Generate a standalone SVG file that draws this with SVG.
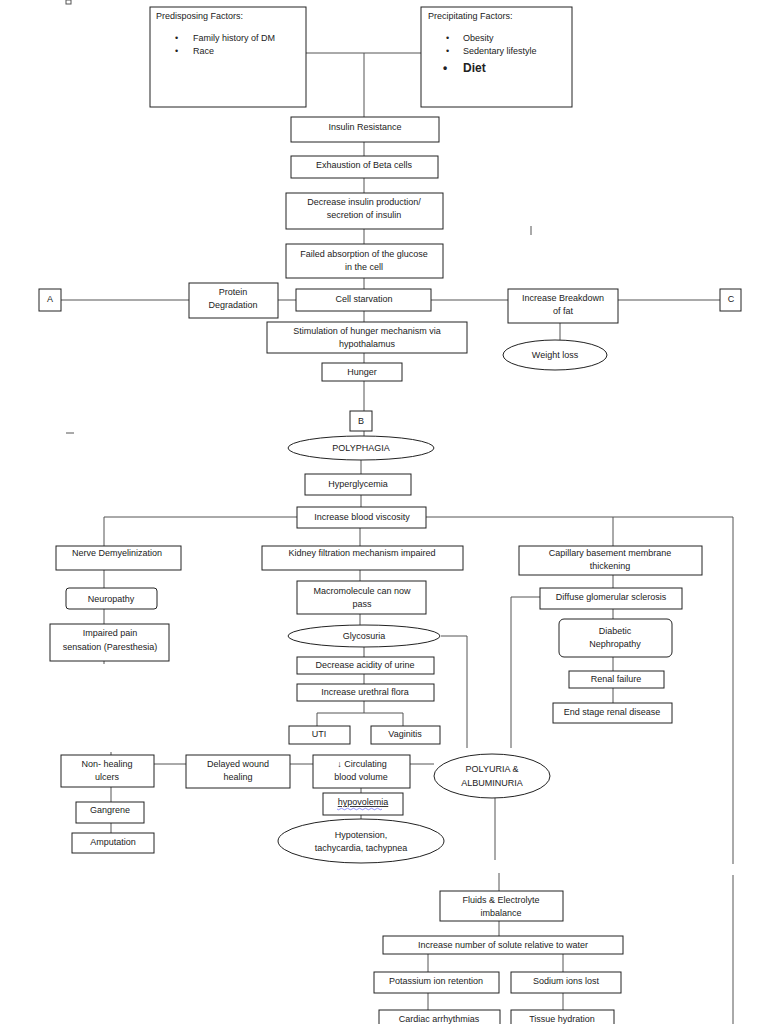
<svg xmlns="http://www.w3.org/2000/svg" width="768" height="1024" viewBox="0 0 768 1024">
<style>
.b{fill:#fff;stroke:#222;stroke-width:1}
.c{stroke:#555;stroke-width:1;fill:none}
text{font-family:"Liberation Sans Narrow","Liberation Sans",Arial,sans-serif;font-size:9px;fill:#222;text-anchor:middle}
.l{text-anchor:start}
</style>
<rect width="768" height="1024" fill="#fff"/>
<g id="connectors">
<path class="c" d="M306 53H421M364 53V117M364 142V156M364 178V193M364 229V244M364 278V289M364 311V322M364 353V363M364 381V411M364 431V436"/>
<path class="c" d="M61 300H189M278 300H296M431 300H508M618 300H720M560 323V340"/>
<path class="c" d="M361 460V474M361 495V507M104 517H297M426 517H733V864M733 875V1024M104 517V546M613 517V546M360 528V546"/>
<path class="c" d="M104 570V588M104 609V624M104 661V664M360 570V581M360 614V625M441 636H467V748M364 647V657M364 674V684M364 701V713M317 713H403M317 713V726M403 713V726"/>
<path class="c" d="M613 575V588M540 597H511V748M613 609V619M613 657V671M613 688V703"/>
<path class="c" d="M111 752V755M154 764H186M290 764H313M410 764H434M361 788V793M361 815V819M111 787V802M111 823V833"/>
<path class="c" d="M495 797V860M499 873V891M499 921V936M428 954V972M563 954V972M428 993V1010M563 993V1010"/>
<path class="c" d="M531 226V235M66 433H74"/>
<rect x="66" y="0" width="5" height="4" class="c"/>
</g>
<g id="predisposing"><rect class="b" x="150" y="7" width="156" height="100"/><text class="l" x="156" y="19">Predisposing Factors:</text><text class="l" x="175" y="41">•</text><text class="l" x="193" y="41">Family history of DM</text><text class="l" x="175" y="54">•</text><text class="l" x="193" y="54">Race</text></g>
<g id="precipitating"><rect class="b" x="421" y="7" width="151" height="100"/><text class="l" x="428" y="19">Precipitating Factors:</text><text class="l" x="446" y="41">•</text><text class="l" x="463" y="41">Obesity</text><text class="l" x="446" y="54">•</text><text class="l" x="463" y="54">Sedentary lifestyle</text><text class="l" x="443" y="72" style="font-size:12px;font-weight:bold;font-family:'Liberation Sans',sans-serif">•</text><text class="l" x="463" y="72" style="font-size:12px;font-weight:bold;font-family:'Liberation Sans',sans-serif">Diet</text></g>
<g id="insulin"><rect class="b" x="291" y="117" width="148" height="25"/><text x="365" y="130">Insulin Resistance</text></g>
<g id="exhaustion"><rect class="b" x="291" y="156" width="147" height="22"/><text x="364" y="168">Exhaustion of Beta cells</text></g>
<g id="decrease"><rect class="b" x="286" y="193" width="157" height="36"/><text x="364" y="205">Decrease insulin production/</text><text x="364" y="218">secretion of insulin</text></g>
<g id="failed"><rect class="b" x="286" y="244" width="157" height="34"/><text x="364" y="257">Failed absorption of the glucose</text><text x="364" y="270">in the cell</text></g>
<g id="starvation"><rect class="b" x="296" y="289" width="135" height="22"/><text x="364" y="302">Cell starvation</text></g>
<g id="A"><rect class="b" x="39" y="289" width="22" height="22"/><text x="50" y="302">A</text></g>
<g id="C"><rect class="b" x="720" y="289" width="21" height="22"/><text x="731" y="302">C</text></g>
<g id="protein"><rect class="b" x="189" y="283" width="89" height="35"/><text x="233" y="295">Protein</text><text x="233" y="308">Degradation</text></g>
<g id="fat"><rect class="b" x="508" y="289" width="110" height="34"/><text x="563" y="301">Increase Breakdown</text><text x="563" y="314">of fat</text></g>
<g id="weight"><ellipse class="b" cx="555" cy="355" rx="52" ry="15"/><text x="555" y="358">Weight loss</text></g>
<g id="stimulation"><rect class="b" x="267" y="322" width="200" height="31"/><text x="367" y="334">Stimulation of hunger mechanism via</text><text x="367" y="347">hypothalamus</text></g>
<g id="hunger"><rect class="b" x="322" y="363" width="80" height="18"/><text x="362" y="375">Hunger</text></g>
<g id="B"><rect class="b" x="350" y="411" width="22" height="20"/><text x="361" y="424">B</text></g>
<g id="polyphagia"><ellipse class="b" cx="361" cy="448" rx="73" ry="12"/><text x="361" y="451">POLYPHAGIA</text></g>
<g id="hyperglycemia"><rect class="b" x="305" y="474" width="106" height="21"/><text x="358" y="487">Hyperglycemia</text></g>
<g id="viscosity"><rect class="b" x="297" y="507" width="129" height="21"/><text x="362" y="520">Increase blood viscosity</text></g>
<g id="nerve"><rect class="b" x="56" y="546" width="125" height="24"/><text x="117" y="556">Nerve Demyelinization</text></g>
<g id="neuropathy"><rect class="b" x="66" y="588" width="91" height="21" rx="3"/><text x="111" y="602">Neuropathy</text></g>
<g id="pain"><rect class="b" x="50" y="624" width="119" height="37"/><text x="110" y="636">Impaired pain</text><text x="110" y="650">sensation (Paresthesia)</text></g>
<g id="kidney"><rect class="b" x="262" y="546" width="201" height="24"/><text x="362" y="556">Kidney filtration mechanism impaired</text></g>
<g id="macro"><rect class="b" x="297" y="581" width="129" height="33"/><text x="362" y="594">Macromolecule can now</text><text x="362" y="607">pass</text></g>
<g id="glycosuria"><ellipse class="b" cx="364" cy="636" rx="76" ry="11"/><text x="364" y="639">Glycosuria</text></g>
<g id="acidity"><rect class="b" x="297" y="657" width="137" height="17"/><text x="365" y="668">Decrease acidity of urine</text></g>
<g id="flora"><rect class="b" x="297" y="684" width="137" height="17"/><text x="365" y="695">Increase urethral flora</text></g>
<g id="uti"><rect class="b" x="289" y="726" width="61" height="18"/><text x="319" y="737">UTI</text></g>
<g id="vaginitis"><rect class="b" x="371" y="726" width="69" height="18"/><text x="405" y="737">Vaginitis</text></g>
<g id="capillary"><rect class="b" x="519" y="546" width="183" height="29"/><text x="610" y="556">Capillary basement membrane</text><text x="610" y="569">thickening</text></g>
<g id="diffuse"><rect class="b" x="540" y="588" width="142" height="21"/><text x="611" y="600">Diffuse glomerular sclerosis</text></g>
<g id="nephropathy"><rect class="b" x="559" y="619" width="113" height="38" rx="5"/><text x="615" y="634">Diabetic</text><text x="615" y="647">Nephropathy</text></g>
<g id="renal"><rect class="b" x="569" y="671" width="95" height="17"/><text x="616" y="682">Renal failure</text></g>
<g id="esrd"><rect class="b" x="553" y="703" width="119" height="20"/><text x="612" y="715">End stage renal disease</text></g>
<g id="ulcers"><rect class="b" x="61" y="755" width="93" height="32"/><text x="107" y="767">Non- healing</text><text x="107" y="780">ulcers</text></g>
<g id="gangrene"><rect class="b" x="76" y="802" width="68" height="21"/><text x="110" y="813">Gangrene</text></g>
<g id="amputation"><rect class="b" x="72" y="833" width="82" height="20"/><text x="113" y="845">Amputation</text></g>
<g id="wound"><rect class="b" x="186" y="755" width="104" height="33"/><text x="238" y="767">Delayed wound</text><text x="238" y="780">healing</text></g>
<g id="circulating"><rect class="b" x="313" y="755" width="97" height="33"/><text x="362" y="767">↓ Circulating</text><text x="361" y="780">blood volume</text></g>
<g id="polyuria"><ellipse class="b" cx="492" cy="776" rx="58" ry="22"/><text x="492" y="772">POLYURIA &amp;</text><text x="492" y="786">ALBUMINURIA</text></g>
<g id="hypovolemia"><rect class="b" x="323" y="793" width="80" height="22"/><text x="363" y="805" style="text-decoration:underline">hypovolemia</text><path d="M337 809q1.5 1.5 3 0t3 0t3 0t3 0t3 0t3 0t3 0t3 0t3 0t3 0t3 0t3 0t3 0t3 0t3 0" stroke="#44f" stroke-width=".6" fill="none"/></g>
<g id="hypotension"><ellipse class="b" cx="361" cy="841" rx="83" ry="22"/><text x="361" y="838">Hypotension,</text><text x="361" y="851">tachycardia, tachypnea</text></g>
<g id="fluids"><rect class="b" x="440" y="891" width="123" height="30"/><text x="501" y="903">Fluids &amp; Electrolyte</text><text x="501" y="916">imbalance</text></g>
<g id="solute"><rect class="b" x="383" y="936" width="240" height="18"/><text x="503" y="948">Increase number of solute relative to water</text></g>
<g id="potassium"><rect class="b" x="374" y="972" width="125" height="21"/><text x="436" y="984">Potassium ion retention</text></g>
<g id="sodium"><rect class="b" x="511" y="972" width="110" height="21"/><text x="566" y="984">Sodium ions lost</text></g>
<g id="cardiac"><rect class="b" x="379" y="1010" width="121" height="22"/><text x="439" y="1022">Cardiac arrhythmias</text></g>
<g id="tissue"><rect class="b" x="511" y="1010" width="103" height="22"/><text x="562" y="1022">Tissue hydration</text></g>
</svg>
